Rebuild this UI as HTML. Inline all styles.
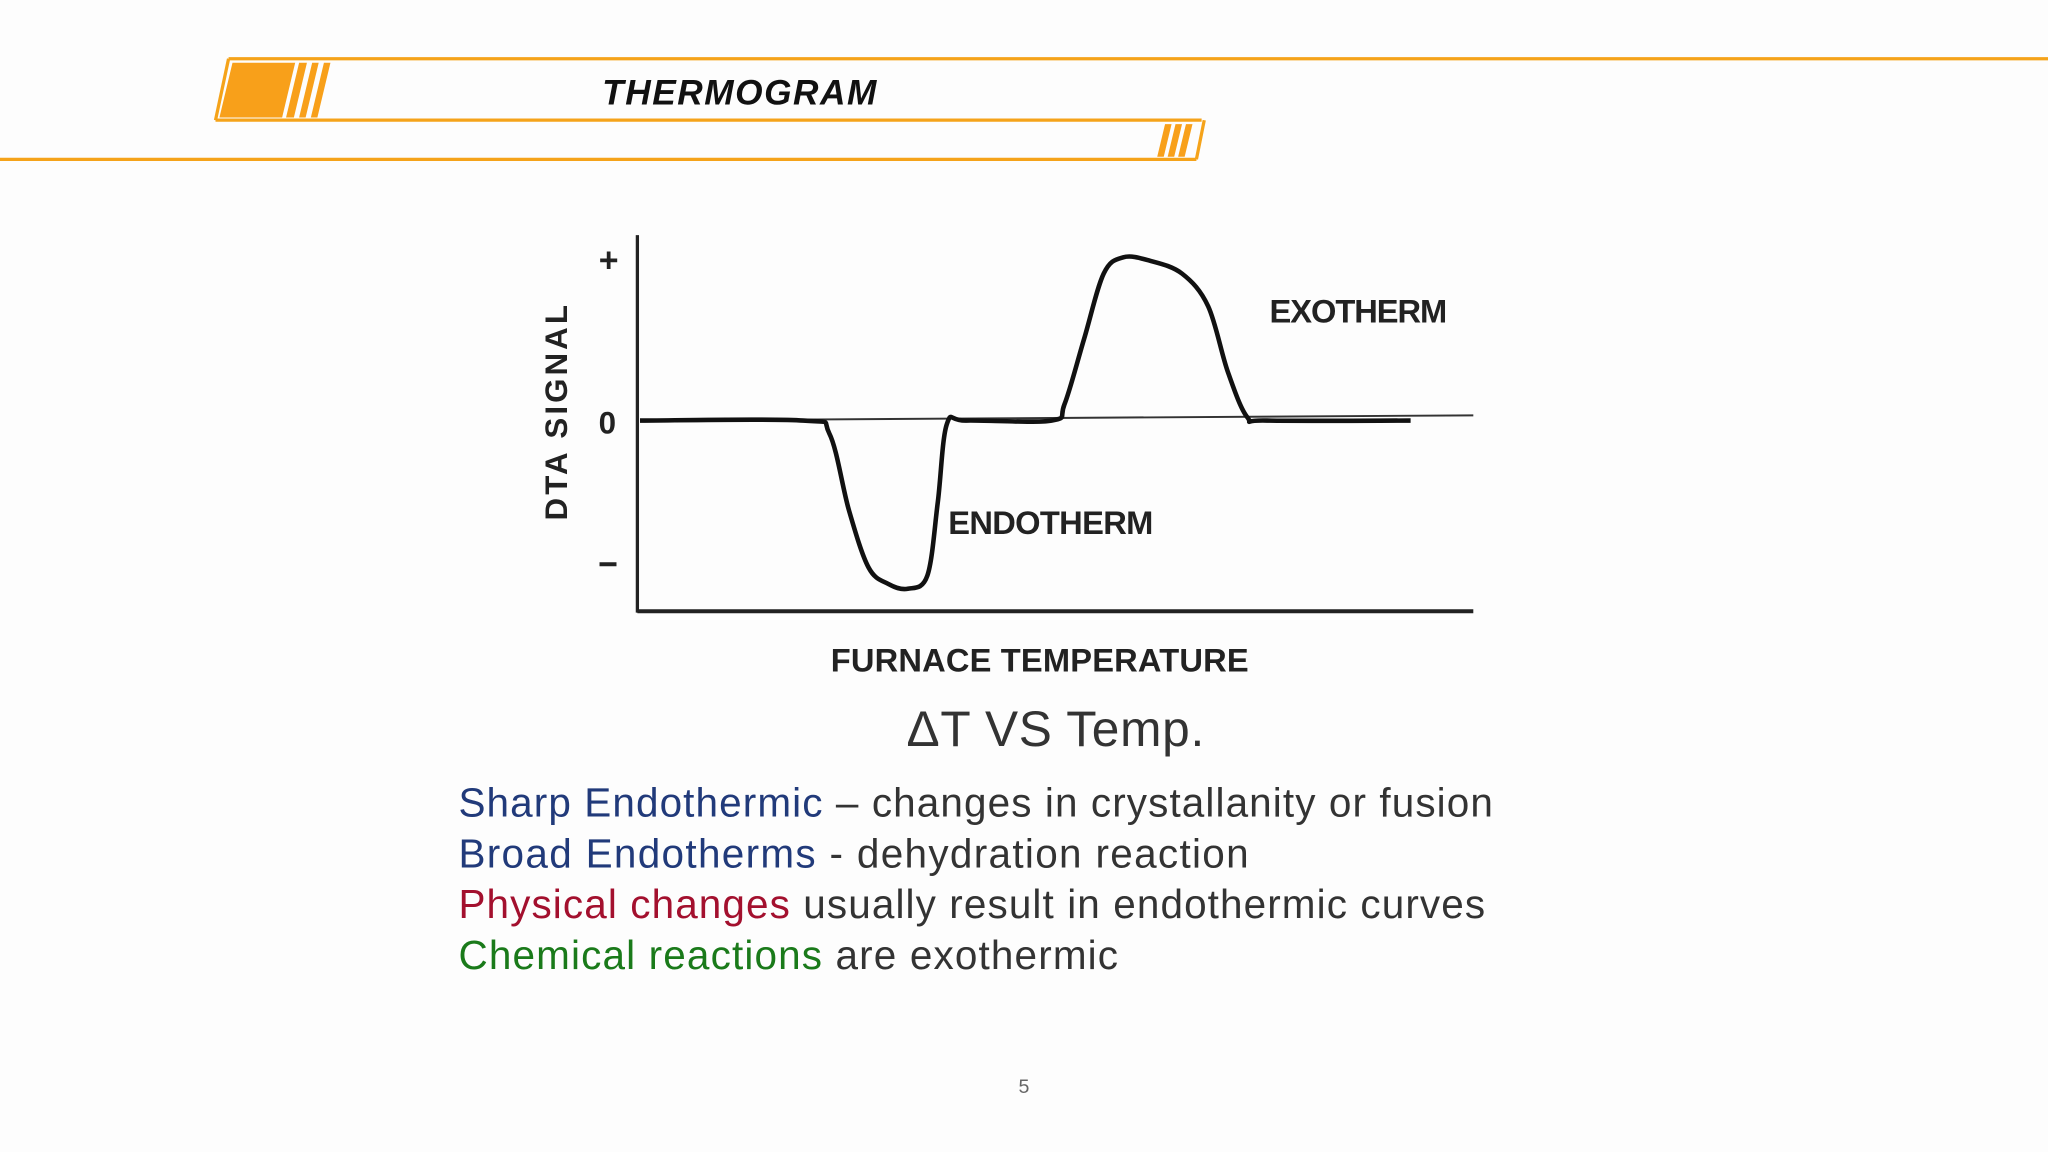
<!DOCTYPE html>
<html><head><meta charset="utf-8"><style>
html,body{margin:0;padding:0;background:#fdfdfd;}
svg{display:block;}
text{font-family:"Liberation Sans",sans-serif;}
</style></head><body>
<svg width="2048" height="1152" viewBox="0 0 1568 882" preserveAspectRatio="none">
<rect width="1568" height="882" fill="#fdfdfd"/>
<g>
<line x1="175" y1="45" x2="1568" y2="45" stroke="#f5a31a" stroke-width="2.5"/>
<line x1="165" y1="92" x2="920" y2="92" stroke="#f5a31a" stroke-width="2.5"/>
<line x1="0" y1="122" x2="916" y2="122" stroke="#f5a31a" stroke-width="2.5"/>
<line x1="175" y1="45" x2="165" y2="92" stroke="#f5a31a" stroke-width="2.5"/>
<line x1="922" y1="92" x2="916" y2="122" stroke="#f5a31a" stroke-width="2.5"/>
<polygon points="178,48 226,48 216,90 168,90" fill="#f8a01a"/>
<polygon points="229,48 235,48 225,90 219,90" fill="#f8a01a"/>
<polygon points="239,48 244,48 234,90 229,90" fill="#f8a01a"/>
<polygon points="248,48 253,48 243,90 238,90" fill="#f8a01a"/>
<polygon points="892,95 897,95 891,120 886,120" fill="#f8a01a"/>
<polygon points="900,95 905,95 899,120 894,120" fill="#f8a01a"/>
<polygon points="908,95 913,95 907,120 902,120" fill="#f8a01a"/>
<text x="461" y="80" font-size="27" font-weight="bold" font-style="italic" fill="#111" textLength="210">THERMOGRAM</text>
</g>
<g id="chart">
<line x1="488" y1="180" x2="488" y2="469" stroke="#222" stroke-width="2.5"/>
<line x1="488" y1="468" x2="1128" y2="468" stroke="#222" stroke-width="3"/>
<line x1="490" y1="322" x2="1128" y2="318" stroke="#333" stroke-width="1.5"/>
<text x="466" y="208" font-size="26" font-weight="bold" text-anchor="middle" fill="#222">+</text>
<text x="465" y="332" font-size="24" font-weight="bold" text-anchor="middle" fill="#222">0</text>
<line x1="459" y1="432" x2="472" y2="432" stroke="#222" stroke-width="3"/>
<text transform="translate(434,316) rotate(-90)" font-size="24" font-weight="bold" text-anchor="middle" fill="#222" textLength="165">DTA  SIGNAL</text>
<text x="796" y="514" font-size="25" font-weight="bold" text-anchor="middle" fill="#222" textLength="320">FURNACE  TEMPERATURE</text>
<text x="972" y="247" font-size="25" font-weight="bold" fill="#222" textLength="136">EXOTHERM</text>
<text x="726" y="409" font-size="25" font-weight="bold" fill="#222" textLength="157">ENDOTHERM</text>
</g>
<text x="808" y="571" font-size="38" text-anchor="middle" fill="#333" textLength="228">ΔT VS Temp.</text>
<g font-size="31" fill="#333">
<text x="351" y="625" textLength="792"><tspan fill="#213a7a">Sharp Endothermic</tspan> – changes in crystallanity or fusion</text>
<text x="351" y="664" textLength="605"><tspan fill="#213a7a">Broad Endotherms</tspan> - dehydration reaction</text>
<text x="351" y="703" textLength="786"><tspan fill="#a3102e">Physical changes</tspan> usually result in endothermic curves</text>
<text x="351" y="742" textLength="505"><tspan fill="#1a7a1a">Chemical reactions</tspan> are exothermic</text>
</g>
<text x="784" y="837" font-size="15" text-anchor="middle" fill="#666">5</text>
</svg>
<script>
const temps = [0,125,145,160,175,190,205,220,228,235,250,315,325,340,355,370,390,415,435,450,465,480,590];
const signal = [0,0,-0.08,-0.55,-0.9,-1.0,-1.03,-0.95,-0.5,-0.02,0,0,0.1,0.5,0.9,1.0,0.98,0.9,0.7,0.3,0.02,0,0];
const xScale = t => 490 + t;
const yScale = v => 322 - v * 125;
const pts = temps.map((t,i)=>[xScale(t), yScale(signal[i])]);
let d = 'M' + pts[0][0] + ',' + pts[0][1];
for (let i=0;i<pts.length-1;i++){
  const p0=pts[Math.max(0,i-1)],p1=pts[i],p2=pts[i+1],p3=pts[Math.min(pts.length-1,i+2)];
  const c1=[p1[0]+(p2[0]-p0[0])/6,p1[1]+(p2[1]-p0[1])/6];
  const c2=[p2[0]-(p3[0]-p1[0])/6,p2[1]-(p3[1]-p1[1])/6];
  d+=' C'+c1.join(',')+' '+c2.join(',')+' '+p2.join(',');
}
const path=document.createElementNS('http://www.w3.org/2000/svg','path');
path.setAttribute('d',d);
path.setAttribute('fill','none');
path.setAttribute('stroke','#111');
path.setAttribute('stroke-width','3.5');
path.setAttribute('stroke-linejoin','round');


document.getElementById('chart').appendChild(path);
</script>
</body></html>
